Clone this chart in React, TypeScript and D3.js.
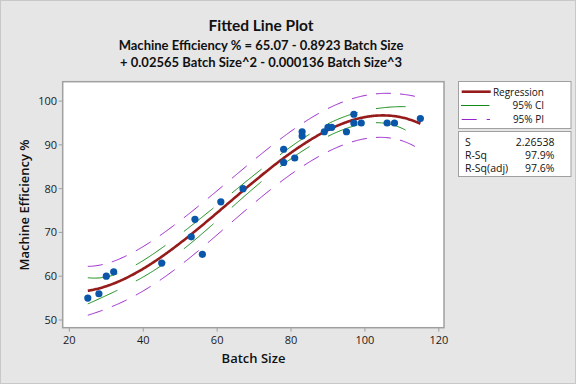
import React from "react";
import * as d3 from "d3";

const batchSize = [25, 28, 30, 32, 45, 53, 54, 56, 61, 67, 78, 78, 81, 83, 83, 89, 90, 91, 95, 97, 97, 99, 106, 108, 115];
const efficiency = [55, 56, 60, 61, 63, 69, 73, 65, 77, 80, 89, 86, 87, 93, 92, 93, 94, 94, 93, 97, 95, 95, 95, 95, 96];
const coefficients = [65.07, -0.8923, 0.02565, -0.000136];
const sValue = 2.26538;
const tCrit = 2.0796;
const xTicks = [20, 40, 60, 80, 100, 120];
const yTicks = [50, 60, 70, 80, 90, 100];
const statLabels = ["S", "R-Sq", "R-Sq(adj)"];
const statValues = ["2.26538", "97.9%", "97.6%"];
const legendLabels = ["Regression", "95% CI", "95% PI"];

const W = 576, H = 384;
const PL = 62.7, PR = 444, PT = 81.7, PB = 327.7;
const FONT = "'Open Sans', 'Noto Sans', sans-serif";
const TFONT = "Lato, 'Open Sans', sans-serif";
const RED = "#961b1b", GREEN = "#138a13", PURPLE = "#9a22cc", BLUE = "#0a56a8";

function fit(x: number) {
  return coefficients.reduce((s, c, i) => s + c * Math.pow(x, i), 0);
}

const mean = d3.mean(batchSize)!;
const sd = d3.deviation(batchSize)!;
function basis(x: number) {
  const z = (x - mean) / sd;
  return [1, z, z * z, z * z * z];
}
function invert(m: number[][]) {
  const n = m.length;
  const a = m.map((r, i) => [...r, ...r.map((_, j) => (i === j ? 1 : 0))]);
  for (let i = 0; i < n; i++) {
    let p = i;
    for (let k = i + 1; k < n; k++) if (Math.abs(a[k][i]) > Math.abs(a[p][i])) p = k;
    [a[i], a[p]] = [a[p], a[i]];
    const d = a[i][i];
    for (let j = 0; j < 2 * n; j++) a[i][j] /= d;
    for (let k = 0; k < n; k++) {
      if (k === i) continue;
      const f = a[k][i];
      for (let j = 0; j < 2 * n; j++) a[k][j] -= f * a[i][j];
    }
  }
  return a.map((r) => r.slice(n));
}
const XtX = [0, 1, 2, 3].map((i) => [0, 1, 2, 3].map((j) => d3.sum(batchSize, (x) => basis(x)[i] * basis(x)[j])));
const XtXinv = invert(XtX);
function leverage(x: number) {
  const b = basis(x);
  let s = 0;
  for (let i = 0; i < 4; i++) for (let j = 0; j < 4; j++) s += b[i] * XtXinv[i][j] * b[j];
  return s;
}

export default function App() {
  const x = d3.scaleLinear().domain([18.2, 121.4]).range([PL, PR]);
  const y = d3.scaleLinear().domain([48.24, 104.43]).range([PB, PT]);
  const xMin = d3.min(batchSize)!, xMax = d3.max(batchSize)!;
  const line = d3.line<number>().x((v) => x(v)).y((v) => y(fit(v)));
  const regPts = d3.range(xMin, xMax + 0.001, 0.25);

  const bandSegments = (dash: number, gap: number, f: (v: number) => number) => {
    const segs: string[] = [];
    const gen = d3.line<number>().x((v) => x(v)).y((v) => y(f(v)));
    for (let s = xMin; s < xMax; s += dash + gap) {
      const e = Math.min(s + dash, xMax);
      const pts = d3.range(s, e, 0.25).concat([e]);
      segs.push(gen(pts)!);
    }
    return segs;
  };
  const ciHi = (v: number) => fit(v) + tCrit * sValue * Math.sqrt(leverage(v));
  const ciLo = (v: number) => fit(v) - tCrit * sValue * Math.sqrt(leverage(v));
  const piHi = (v: number) => fit(v) + tCrit * sValue * Math.sqrt(1 + leverage(v));
  const piLo = (v: number) => fit(v) - tCrit * sValue * Math.sqrt(1 + leverage(v));

  const ciSegs = [...bandSegments(8, 5, ciHi), ...bandSegments(8, 5, ciLo)];
  const piSegs = [...bandSegments(4, 2.5, piHi), ...bandSegments(4, 2.5, piLo)];

  return (
    <svg width={W} height={H} style={{ display: "block", position: "absolute", left: 0, top: 0 }} fontFamily={FONT}>
      <rect x={0.5} y={0.5} width={W - 1} height={H - 1} fill="#e6e6e6" stroke="#c8c8c8" />
      <text x={261} y={31} textAnchor="middle" fontSize={15.5} fontWeight="bold" fill="#111" fontFamily={TFONT}>Fitted Line Plot</text>
      <text x={261} y={50} textAnchor="middle" fontSize={13} fontWeight="bold" fill="#111" fontFamily={TFONT}>Machine Efficiency % = 65.07 - 0.8923 Batch Size</text>
      <text x={261} y={67} textAnchor="middle" fontSize={13} fontWeight="bold" fill="#111" fontFamily={TFONT}>+ 0.02565 Batch Size^2 - 0.000136 Batch Size^3</text>

      <rect x={PL} y={PT} width={PR - PL} height={PB - PT} fill="#fff" stroke="#a0a0a0" strokeWidth={1.5} />

      {xTicks.map((t) => (
        <g key={"x" + t}>
          <line x1={x(t)} x2={x(t)} y1={PB} y2={PB + 4} stroke="#a0a0a0" />
          <text x={x(t)} y={343.5} textAnchor="middle" fontSize={11} fill="#1a1a1a">{t}</text>
        </g>
      ))}
      {yTicks.map((t) => (
        <g key={"y" + t}>
          <line x1={PL - 4} x2={PL} y1={y(t)} y2={y(t)} stroke="#a0a0a0" />
          <text x={57} y={y(t) + 4} textAnchor="end" fontSize={11} fill="#1a1a1a">{t}</text>
        </g>
      ))}
      <text x={253.5} y={362.5} textAnchor="middle" fontSize={13} fontWeight="600" fill="#111">Batch Size</text>
      <text transform="translate(29,205) rotate(-90)" textAnchor="middle" fontSize={13} fontWeight="600" fill="#111">Machine Efficiency %</text>

      {piSegs.map((d, i) => (
        <path key={"pi" + i} d={d} fill="none" stroke={PURPLE} strokeWidth={1} />
      ))}
      {ciSegs.map((d, i) => (
        <path key={"ci" + i} d={d} fill="none" stroke={GREEN} strokeWidth={1} />
      ))}
      <path d={line(regPts)!} fill="none" stroke={RED} strokeWidth={2.6} />
      {batchSize.map((b, i) => (
        <circle key={"p" + i} cx={x(b)} cy={y(efficiency[i])} r={3.6} fill={BLUE} />
      ))}

      <rect x={458.5} y={81.5} width={112.5} height={47} fill="#fff" stroke="#a0a0a0" />
      <line x1={461.7} x2={490.7} y1={91.7} y2={91.7} stroke={RED} strokeWidth={2.6} />
      <line x1={461} x2={489.5} y1={105.5} y2={105.5} stroke={GREEN} strokeWidth={1} />
      <line x1={461.7} x2={490} y1={119.5} y2={119.5} stroke={PURPLE} strokeWidth={1} strokeDasharray="15 10" />
      {legendLabels.map((l, i) => (
        <text key={l} x={544} y={95.5 + i * 13.8} textAnchor="end" fontSize={10} fill="#111">{l}</text>
      ))}

      <rect x={458.5} y={131.5} width={112.5} height={45} fill="#fff" stroke="#a0a0a0" />
      {statLabels.map((l, i) => (
        <g key={l}>
          <text x={465} y={145.5 + i * 13.4} fontSize={10.5} fill="#111">{l}</text>
          <text x={554.5} y={145.5 + i * 13.4} textAnchor="end" fontSize={10.5} fill="#111">{statValues[i]}</text>
        </g>
      ))}
    </svg>
  );
}
